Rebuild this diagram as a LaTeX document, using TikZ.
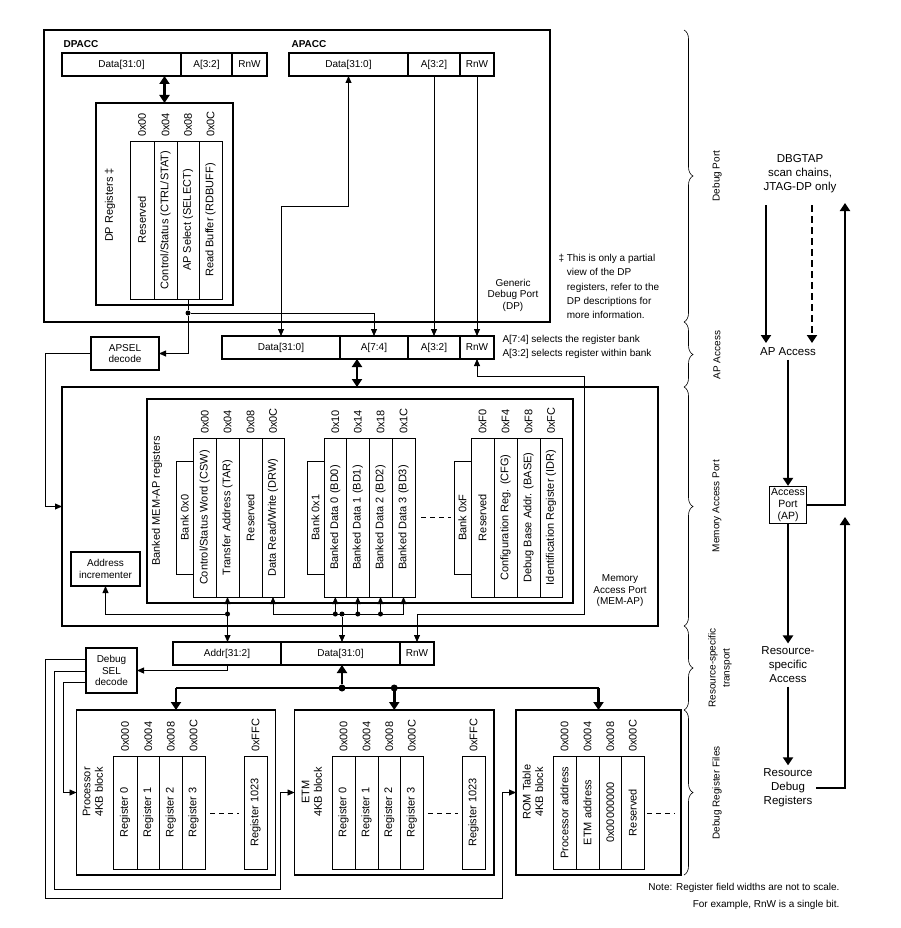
\documentclass[tikz,border=0pt]{standalone}
\usepackage{fontspec}
\setmainfont{Liberation Sans}
\usetikzlibrary{arrows.meta,calc,decorations.pathreplacing}
\newcommand{\RB}[6][]{\node[draw,inner sep=0pt,outer sep=0pt,anchor=north west,minimum width=#5pt-#3pt,minimum height=#6pt-#4pt,#1] (#2) at (#3,#4) {};}
\begin{document}
\begin{tikzpicture}[x=1pt,y=-1pt,
  every node/.style={font=\fontsize{10}{11.5}\selectfont},
  box/.style={line width=1.3pt},
  reg/.style={line width=0.8pt},
  rot/.style={rotate=90,inner sep=0pt,font=\fontsize{11}{12.5}\selectfont},
  adr/.style={rotate=90,anchor=west,inner sep=0pt,font=\fontsize{11}{12.5}\selectfont},
  wire/.style={line width=0.8pt},
  arr/.style={wire,-{Triangle[length=7pt,width=6pt]}},
  barr/.style={wire,{Triangle[length=7pt,width=6pt]}-{Triangle[length=7pt,width=6pt]}},
  bus/.style={line width=2.6pt},
  busarr/.style={bus,-{Triangle[length=8pt,width=10pt]}},
  dbl/.style={bus,{Triangle[length=8pt,width=10pt]}-{Triangle[length=8pt,width=10pt]}},
  dot/.style={circle,fill,inner sep=0pt,minimum size=5pt},
  side/.style={font=\fontsize{11.5}{14}\selectfont,align=center},
  brc/.style={line width=0.6pt,decorate,decoration={brace,amplitude=9pt}},
  blab/.style={rotate=90,font=\fontsize{10}{14}\selectfont,align=center}]
\useasboundingbox (0,0) rectangle (901,928);

% ---------------- Debug port ----------------
\RB[box]{dp}{44}{30}{550}{322}
\node[anchor=west,font=\bfseries\fontsize{10}{12}\selectfont] (dpacc) at (60,44) {DPACC};
\node[anchor=west,font=\bfseries\fontsize{10}{12}\selectfont] (apacc) at (288,44) {APACC};
\RB[box]{dpd}{62}{53}{181}{76} \node at (dpd) {Data[31:0]};
\RB[box]{dpa}{181}{53}{232}{76} \node at (dpa) {A[3:2]};
\RB[box]{dpr}{232}{53}{267}{76} \node at (dpr) {RnW};
\RB[box]{apd}{289}{53}{408}{76} \node at (apd) {Data[31:0]};
\RB[box]{apa}{408}{53}{460}{76} \node at (apa) {A[3:2]};
\RB[box]{apr}{460}{53}{494}{76} \node at (apr) {RnW};

\RB[box]{dpregs}{96}{103}{233}{305}
\node[rot] (dptitle) at (110,205) {DP Registers ‡};
\foreach \a/\b/\t/\ad [count=\i] in {130/154/Reserved/0x00,154/177/{Control/Status (CTRL/STAT)}/0x04,177/199/{AP Select (SELECT)}/0x08,199/222/{Read Buffer (RDBUFF)}/0x0C}{
  \RB[reg]{dp\i}{\a}{141}{\b}{299}
  \node[rot] at (dp\i) {\t};
  \node[adr] at ($(dp\i.north)+(0,-4)$) {\ad};
}
\draw[dbl] (dpd.south -| dpregs.north) -- (dpregs.north);

% AP row
\RB[box]{xd}{222}{336}{340}{359} \node at (xd) {Data[31:0]};
\RB[box]{xb}{340}{336}{408}{359} \node at (xb) {A[7:4]};
\RB[box]{xa}{408}{336}{460}{359} \node at (xa) {A[3:2]};
\RB[box]{xr}{460}{336}{494}{359} \node at (xr) {RnW};
\draw[barr] (xd.north) -- ++(0,-130) -| (apd.south);
\draw[arr] (apa.south) -- (xa.north);
\draw[arr] (apr.south) -- (xr.north);
\node[dot] (seldot) at (188,313) {};
\draw[wire] (dp3.south) -- (seldot);
\draw[arr] (seldot) -| (xb.north);
\RB[box]{apsel}{91}{337}{159}{370}
\node[align=center] at (apsel) {APSEL\\decode};
\draw[arr] (seldot) |- (apsel.east);
\node[align=center] (gdp) at (513,295) {Generic\\Debug Port\\(DP)};
\node[align=left,anchor=north west,font=\fontsize{10}{14.2}\selectfont] (fn) at (555,251) {‡ This is only a partial\\\hphantom{‡ }view of the DP\\\hphantom{‡ }registers, refer to the\\\hphantom{‡ }DP descriptions for\\\hphantom{‡ }more information.};
\node[align=left,anchor=west,font=\fontsize{10}{14}\selectfont] (bnk) at (499,347) {A[7:4] selects the register bank\\A[3:2] selects register within bank};

% ---------------- MEM-AP ----------------
\RB[box]{memap}{62}{387}{658}{626}
\draw[arr] (apsel.west) -- ++(-46,0) |- (memap.west);
\draw[dbl] (xb.south -| 357,0) -- (memap.north -| 357,0);
\RB[box]{banked}{147}{399}{573}{603}
\node[rot] at (157,501) {Banked MEM-AP registers};
\RB[reg]{bk0}{176}{461}{193.5}{574} \node[rot] at (bk0) {Bank 0x0};
\RB[reg]{bk1}{307}{461}{324}{574} \node[rot] at (bk1) {Bank 0x1};
\RB[reg]{bkf}{454}{461}{471}{574} \node[rot] at (bkf) {Bank 0xF};
\foreach \a/\b/\t/\ad/\n in {193.5/216/{Control/Status Word (CSW)}/0x00/m1,216/239/Transfer Address (TAR)/0x04/m2,239/262/Reserved/0x08/m3,262/284/{Data Read/Write (DRW)}/0x0C/m4,
  324/346.6/Banked Data 0 (BD0)/0x10/b1,346.6/369/Banked Data 1 (BD1)/0x14/b2,369/392/Banked Data 2 (BD2)/0x18/b3,392/415/Banked Data 3 (BD3)/0x1C/b4,
  471/494/Reserved/0xF0/f1,494/517/Configuration Reg. (CFG)/0xF4/f2,517/540/Debug Base Addr. (BASE)/0xF8/f3,540/562/Identification Register (IDR)/0xFC/f4}{
  \RB[reg]{\n}{\a}{438}{\b}{597}
  \node[rot] at (\n) {\t};
  \node[adr] at ($(\n.north)+(0,-4)$) {\ad};
}
\draw[wire,dash pattern=on 5pt off 4pt] (421,517) -- (451,517);
\RB[box]{inc}{71}{552}{140}{586}
\node[align=center,font=\fontsize{10}{12}\selectfont] at (inc) {Address\\incrementer};
\node[align=center] (memlab) at (620,591) {Memory\\Access Port\\(MEM-AP)};

% MEM-AP bus row
\RB[box]{addr}{173}{642}{281}{665} \node at (addr) {Addr[31:2]};
\RB[box]{data}{281}{642}{400}{665} \node at (data) {Data[31:0]};
\RB[box]{rnw}{400}{642}{434}{665} \node at (rnw) {RnW};
\draw[barr] (m2.south) -- (addr.north -| m2.south);
\node[dot] (adot) at (m2.south |- 0,614) {};
\draw[arr] (adot) -| (inc.south);
\draw[wire] (m4.south |- 0,614) -- (b4.south |- 0,614);
\foreach \n in {m4,b1,b2,b3,b4} \draw[arr] (\n.south |- 0,614) -- (\n.south);
\foreach \n in {b1,b2,b3} \node[dot] at (\n.south |- 0,614) {};
\node[dot] (ddot) at (342,614) {};
\draw[arr] (ddot) -- (data.north -| ddot);
\draw[barr] (xr.south) -- ++(0,17) -| (584,614) -| (rnw.north);

% ---------------- register files ----------------
\RB[box]{dsel}{86}{648}{137}{693}
\node[align=center] at (dsel) {Debug\\SEL\\decode};
\draw[arr] (addr.south) |- (dsel.east);
\RB[box]{proc}{76.5}{710}{275.5}{875}
\RB[box]{etm}{294.5}{710}{494}{875}
\RB[box]{rom}{516}{710}{681}{875}
\draw[bus] (proc.north |- 0,688) -- (rom.north |- 0,688);
\foreach \n in {proc,etm,rom} \draw[busarr] (\n.north |- 0,688) -- (\n.north);
\node[dot,minimum size=7pt] (bdot1) at (342,688) {};
\node[dot,minimum size=7pt] (bdot2) at (etm.north |- 0,688) {};
\draw[bus,-{Triangle[length=8pt,width=10pt]}] (bdot1) -- (data.south -| bdot1);

\node[rot,align=center] at (93,792) {Processor\\4KB block};
\node[rot,align=center] at (312,792) {ETM\\4KB block};
\node[rot,align=center] at (533,792) {ROM Table\\4KB block};
\foreach \a/\b/\t/\ad/\n in {113/137/Register 0/0x000/p1,137/159.5/Register 1/0x004/p2,159.5/182/Register 2/0x008/p3,182/205/Register 3/0x00C/p4,244/267/Register 1023/0xFFC/p5,
  332/355/Register 0/0x000/e1,355/378/Register 1/0x004/e2,378/400.5/Register 2/0x008/e3,400.5/423/Register 3/0x00C/e4,462/485/Register 1023/0xFFC/e5,
  553/576/Processor address/0x000/r1,576/599/ETM address/0x004/r2,599/621.5/0x00000000/0x008/r3,621.5/644/Reserved/0x00C/r4}{
  \RB[reg]{\n}{\a}{756}{\b}{869}
  \node[rot] at (\n) {\t};
  \node[adr] at ($(\n.north)+(0,-4)$) {\ad};
}
\foreach \a/\b in {210/239,428/458,647/675} \draw[wire,dash pattern=on 5pt off 4pt] (\a,813) -- (\b,813);
\draw[arr] (dsel.west |- 0,659) -- (45,659) |- (502,898) |- (rom.west);
\draw[arr] (dsel.west |- 0,671) -- (54.5,671) |- (280.5,889) |- (etm.west);
\draw[arr] (dsel.west |- 0,682) -- (63,682) |- (proc.west);
\node[align=right,anchor=north east,font=\fontsize{10}{16.5}\selectfont] (note) at (843,880) {Note: Register field widths are not to scale.\\For example, RnW is a single bit.};

% ---------------- braces ----------------
\draw[brc] (684,30) -- (684,322);
\draw[brc] (684,322) -- (684,387);
\draw[brc] (684,387) -- (684,626);
\draw[brc] (684,626) -- (684,710);
\draw[brc] (684,710) -- (684,875);
\node[blab] at (717,176) {Debug Port};
\node[blab] at (717,355) {AP Access};
\node[blab] at (717,506) {Memory Access Port};
\node[blab] at (720,668) {Resource-specific\\transport};
\node[blab] at (717,793) {Debug Register Files};

% ---------------- right flow ----------------
\node[side] (tap) at (800,174) {DBGTAP\\scan chains,\\JTAG-DP only};
\node[side] (apacc2) at (788,352) {AP Access};
\node[side,draw,line width=0.9pt,inner sep=2pt,font=\fontsize{10.5}{12}\selectfont] (ap) at (788,505) {Access\\Port\\(AP)};
\node[side] (rsa) at (788,665) {Resource-\\specific\\Access};
\node[side] (rdr) at (788,788) {Resource\\Debug\\Registers};
\draw[busarr] (766,205) -- (766,343);
\draw[busarr,line width=2.2pt,dash pattern=on 7pt off 4pt] (812,205) -- (812,343);
\draw[busarr] (apacc2.south) -- (ap.north);
\draw[busarr] (ap.south) -- (rsa.north);
\draw[busarr] (rsa.south) -- (rdr.north);
\draw[busarr] (ap.east) -| (845,203);
\draw[busarr] (rdr.east) -| (845,517);
\end{tikzpicture}
\end{document}
